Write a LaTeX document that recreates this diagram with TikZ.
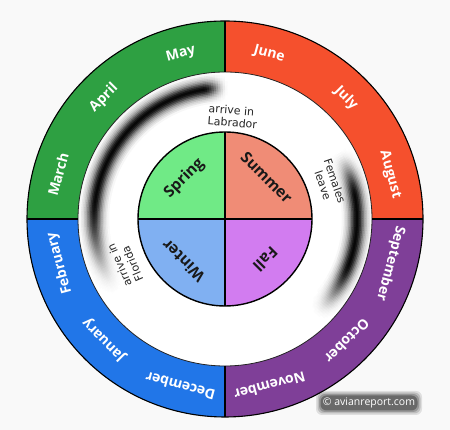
\documentclass[tikz,border=0pt]{standalone}
\usepackage{fontspec}
\newfontfamily\osans{Open Sans}
\newfontfamily\dvs{DejaVu Sans}
\definecolor{bgc}{RGB}{249,249,249}
\definecolor{mgreen}{RGB}{46,160,66}
\definecolor{morange}{RGB}{245,80,45}
\definecolor{mpurple}{RGB}{127,63,152}
\definecolor{mblue}{RGB}{33,118,232}
\definecolor{sspring}{RGB}{112,234,134}
\definecolor{ssummer}{RGB}{240,140,118}
\definecolor{swinter}{RGB}{128,176,242}
\definecolor{sfall}{RGB}{210,124,240}
\begin{document}
\begin{tikzpicture}[x=1pt,y=1pt,
 month/.style={font=\osans\bfseries\fontsize{14}{14}\selectfont, text=white, inner sep=0pt, text height=10pt, text depth=0pt},
 season/.style={font=\osans\bfseries\fontsize{15.5}{16}\selectfont, text=black!90, inner sep=0pt, text height=11pt, text depth=0pt},
 note/.style={font=\dvs\fontsize{11}{12.5}\selectfont, text=black!85, inner sep=0pt},
 ringline/.style={line width=1.1pt, draw=black},
]
\fill[bgc] (0,0) rectangle (450,430);
\useasboundingbox (0,0) rectangle (450,430);
\begin{scope}[shift={(225,211)}]
 \fill[white] (0,0) circle (147);
 % blurred shadow arcs
 \foreach \sw/\sk in {30/0.04, 26/0.1, 23/0.16, 20/0.25, 17/0.37, 14/0.51, 11/0.66, 8/0.8, 5/0.92, 2/0.97} {
  \foreach \sa in {86,87,...,216} {
   \pgfmathsetmacro\st{max(0,min(1,min((\sa-88)/11,(215-\sa)/45)))}
   \pgfmathtruncatemacro\sv{100*\sk*\st*\st*(3-2*\st)}
   \pgfmathsetmacro\sb{\sa+1.4}
   \draw[line width=\sw pt, black!\sv!white] (\sa:131) arc[start angle=\sa, end angle=\sb, radius=131];
  }
  \foreach \sa in {-50,-49,...,32} {
   \pgfmathsetmacro\st{max(0,min(1,min((31-\sa)/22,(\sa+48)/28)))}
   \pgfmathtruncatemacro\sv{100*\sk*\st*\st*(3-2*\st)}
   \pgfmathsetmacro\sb{\sa+1.4}
   \draw[line width=\sw pt, black!\sv!white] (\sa:132) arc[start angle=\sa, end angle=\sb, radius=132];
  }
 }
 % outer ring
 \fill[morange] (0:198) arc[start angle=0,end angle=90,radius=198] -- (90:147) arc[start angle=90,end angle=0,radius=147] -- cycle;
 \fill[mgreen] (90:198) arc[start angle=90,end angle=180,radius=198] -- (180:147) arc[start angle=180,end angle=90,radius=147] -- cycle;
 \fill[mblue] (180:198) arc[start angle=180,end angle=270,radius=198] -- (270:147) arc[start angle=270,end angle=180,radius=147] -- cycle;
 \fill[mpurple] (270:198) arc[start angle=270,end angle=360,radius=198] -- (0:147) arc[start angle=360,end angle=270,radius=147] -- cycle;
 \draw[ringline] (0,0) circle (198);
 \draw[line width=0.8pt, draw=black!85] (0,0) circle (147);
 \foreach \a in {0,90,180,270} \draw[ringline] (\a:147) -- (\a:198);
 % months
 \node[month, rotate=-15] (jun) at (75:172.5) {June};
 \node[month, rotate=-45] (jul) at (45:172.5) {July};
 \node[month, rotate=-75] (aug) at (15:172.5) {August};
 \node[month, rotate=-105] (sep) at (-15:172.5) {September};
 \node[month, rotate=-135] (oct) at (-45:172.5) {October};
 \node[month, rotate=-165] (nov) at (-75:172.5) {November};
 \node[month, rotate=165] (dec) at (-105:172.5) {December};
 \node[month, rotate=135] (jan) at (-135:172.5) {January};
 \node[month, rotate=105] (feb) at (-165:172.5) {February};
 \node[month, rotate=75] (mar) at (165:172.5) {March};
 \node[month, rotate=45] (apr) at (135:172.5) {April};
 \node[month, rotate=15] (may) at (105:172.5) {May};
 % seasons
 \fill[ssummer] (0,0) -- (0:87) arc[start angle=0,end angle=90,radius=87] -- cycle;
 \fill[sspring] (0,0) -- (90:87) arc[start angle=90,end angle=180,radius=87] -- cycle;
 \fill[swinter] (0,0) -- (180:87) arc[start angle=180,end angle=270,radius=87] -- cycle;
 \fill[sfall] (0,0) -- (270:87) arc[start angle=270,end angle=360,radius=87] -- cycle;
 \draw[line width=1.4pt] (0,0) circle (87);
 \draw[line width=1.4pt] (-87,0) -- (87,0);
 \draw[line width=1.4pt] (0,-87) -- (0,87);
 \node[season, rotate=45] (spring) at (135:59) {Spring};
 \node[season, rotate=-45] (summer) at (45:59) {Summer};
 \node[season, rotate=135] (winter) at (225:59) {Winter};
 \node[season, rotate=-135] (fall) at (-45:57) {Fall};
 % notes
 \node[note, align=left, rotate=-4.5] (lab) at (85.6:103) {arrive in\\Labrador};
 \node[note, align=center, rotate=-71] (fem) at (19:110) {Females\\leave};
 \node[note, align=left, rotate=113.5] (flo) at (203.6:109) {arrive in\\Florida};
\end{scope}
% copyright with glow
\foreach \e/\o in {5/0.10, 3.5/0.15, 2/0.2, 0.5/0.3}
  \fill[black, opacity=\o, rounded corners=6pt] (321-\e,20-\e) rectangle (417+\e,34+\e);
\node[font=\osans\fontsize{10.5}{12}\selectfont, text=white, inner sep=0pt] (copy) at (369,27) {© avianreport.com};
\end{tikzpicture}
\end{document}
